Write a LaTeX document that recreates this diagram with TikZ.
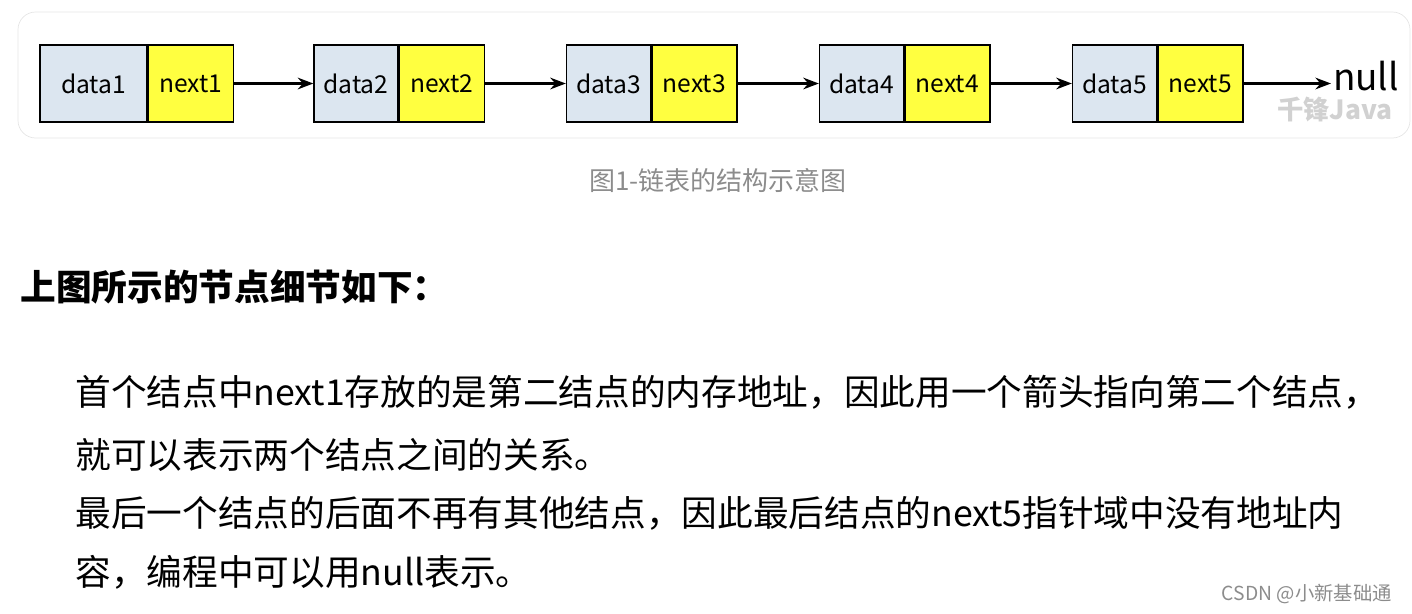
\documentclass[tikz,border=0pt]{standalone}
\usepackage{fontspec}
\setmainfont{Noto Sans CJK SC}
\usetikzlibrary{arrows.meta, positioning}
\definecolor{datablue}{HTML}{DCE6F0}
\definecolor{nextyellow}{HTML}{FFFF40}
\definecolor{capgrey}{HTML}{8C8C8C}
\begin{document}
\begin{tikzpicture}[x=0.02cm,y=-0.02cm,>=Stealth,
    databox/.style={draw, thick, fill=datablue, minimum width=1.68cm, minimum height=1.54cm, inner sep=0pt, font=\fontsize{14}{14}\selectfont},
    nextbox/.style={draw, thick, fill=nextyellow, minimum width=1.7cm, minimum height=1.54cm, inner sep=0pt, font=\fontsize{14}{14}\selectfont},
    link/.style={->, line width=1.3pt},
    para/.style={anchor=west, inner sep=0pt, font=\fontsize{20.3}{20.3}\selectfont}]
    \useasboundingbox (0,0) rectangle (1412,613);
    \draw[black!10, rounded corners=10pt] (18,12) rectangle (1410,138);
    % list nodes
    \node[databox, minimum width=2.14cm] (d1) at (93.5,83.5) {data1};
    \node[nextbox, right = 0pt of d1] (n1) {next1};
    \node[databox] (d2) at (356,83.5) {data2};
    \node[nextbox, right = 0pt of d2] (n2) {next2};
    \node[databox] (d3) at (608.5,83.5) {data3};
    \node[nextbox, right = 0pt of d3] (n3) {next3};
    \node[databox] (d4) at (861.5,83.5) {data4};
    \node[nextbox, right = 0pt of d4] (n4) {next4};
    \node[databox] (d5) at (1114.5,83.5) {data5};
    \node[nextbox, right = 0pt of d5] (n5) {next5};
    \node[font=\fontsize{21}{21}\selectfont, inner sep=1pt] (nul) at (1366,76) {null};
    \node[text=black!18, font=\fontsize{15}{15}\selectfont\bfseries] (wm) at (1335,110) {千锋Java};
    \draw[link] (n1) -- (d2);
    \draw[link] (n2) -- (d3);
    \draw[link] (n3) -- (d4);
    \draw[link] (n4) -- (d5);
    \draw[link] (n5.east) -- (n5.east -| nul.west);
    % text
    \node[text=capgrey, font=\fontsize{14.8}{14.8}\selectfont] (cap) at (718,181) {图1-链表的结构示意图};
    \node[para, font=\fontsize{20.3}{20.3}\selectfont\bfseries] (head) at (20,287) {上图所示的节点细节如下：};
    \node[para] (l1) at (75,392) {首个结点中next1存放的是第二结点的内存地址，因此用一个箭头指向第二个结点，};
    \node[para] (l2) at (75,455) {就可以表示两个结点之间的关系。};
    \node[para] (l3) at (75,513) {最后一个结点的后面不再有其他结点，因此最后结点的next5指针域中没有地址内};
    \node[para] (l4) at (75,572) {容，编程中可以用null表示。};
    \node[text=capgrey, font=\fontsize{11}{11}\selectfont, anchor=east] (csdn) at (1398,594) {CSDN @小新基础通};
\end{tikzpicture}
\end{document}
